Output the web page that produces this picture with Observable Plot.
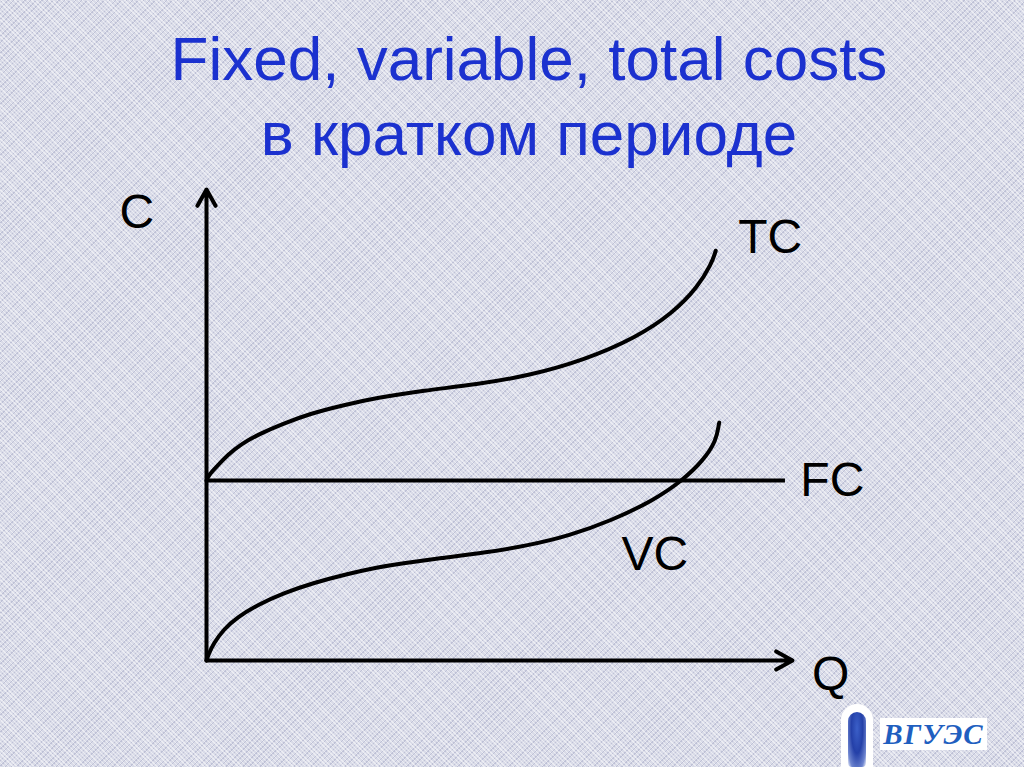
<!DOCTYPE html>
<html>
<head>
<meta charset="utf-8">
<script src="https://cdn.jsdelivr.net/npm/d3@7"></script>
<script src="https://cdn.jsdelivr.net/npm/@observablehq/plot@0.6"></script>
<style>
html, body { margin: 0; padding: 0; }
body {
  width: 1024px; height: 767px; overflow: hidden; position: relative;
  background-color: #d9dbe8;
  background-image:
    repeating-linear-gradient(45deg, rgba(255,255,255,0.5) 0 1px, rgba(255,255,255,0) 1px 3px),
    repeating-linear-gradient(-45deg, rgba(110,115,160,0.25) 0 1px, rgba(0,0,0,0) 1px 4px);
  font-family: "Liberation Sans", Arial, sans-serif;
}
#title {
  height: 170px; box-sizing: border-box; padding: 21px 0 0 34px;
  text-align: center; font-size: 62px; line-height: 75px; color: #1b31cf;
}
#chart svg { display: block; overflow: visible; }
#logo-fig {
  position: absolute; left: 841px; top: 704px; width: 32px; height: 63px;
  background: #fff; border-radius: 16px 16px 0 0; overflow: hidden;
}
#logo-fig div {
  position: absolute; left: 7px; top: 8px; width: 18px; height: 55px;
  background: radial-gradient(ellipse at 50% 30%, #3b5fc8 0%, #2440a8 45%, #6f86d0 80%, rgba(255,255,255,0) 100%);
  border-radius: 9px 9px 4px 4px;
}
#logo-text {
  position: absolute; left: 880px; top: 718px; width: 107px; height: 32px;
  background: #fff; color: #1f5fc0; text-align: center;
  font: italic bold 29px/32px "Liberation Serif", "DejaVu Serif", serif; letter-spacing: 1px;
}
</style>
</head>
<body>
<div id="title">Fixed, variable, total costs<br>в кратком периоде</div>
<div id="chart"></div>
<div id="logo-fig"><div></div></div>
<div id="logo-text">ВГУЭС</div>
<script>
// Quantity (Q) and cost (C) readings, in axis units (0..100 = origin..arrow tip)
const tcQ = [0, 0.4, 1.9, 3.6, 5.8, 9.2, 13.1, 17.7, 22.9, 29.2, 36.9, 46.1, 55.1, 64.3, 73.4, 79.5, 83.8, 86.2, 86.8, 86.9];
const tcC = [38.2, 39.4, 41.4, 43.6, 45.9, 48.2, 50.3, 52.4, 54.1, 55.8, 57.3, 58.6, 60.5, 63.7, 68.6, 73.7, 79.2, 84.3, 86.6, 87.0];
const vcQ = [0, 0.3, 1.2, 2.9, 5.3, 8.7, 13.1, 18.3, 24.1, 29.2, 33.1, 40.4, 47.6, 54.8, 61.9, 69.1, 76.3, 81.2, 84.8, 87.0, 87.4, 87.5];
const vcC = [0, 1.2, 3.6, 6.6, 9.2, 11.8, 14.3, 16.5, 18.4, 19.8, 20.6, 21.8, 22.9, 24.4, 26.5, 29.7, 34.0, 38.2, 42.5, 46.7, 50.0, 50.5];
const fcLevel = 38.2;
const fcEndQ = 98.8;
const axisEnd = 100;

const labelText = ["C", "TC", "FC", "VC", "Q"];
const labelQ = [-11.9, 96.2, 106.8, 76.5, 106.5];
const labelC = [95.0, 89.7, 38.1, 22.4, -3.0];

const tc = tcQ.map((q, i) => ({q, c: tcC[i]}));
const vc = vcQ.map((q, i) => ({q, c: vcC[i]}));
const axes = [
  {x1: 0, y1: 0, x2: 0, y2: axisEnd},
  {x1: 0, y1: 0, x2: axisEnd, y2: 0}
];
const labels = labelText.map((t, i) => ({t, q: labelQ[i], c: labelC[i]}));

const chart = Plot.plot({
  width: 1024,
  height: 597,
  marginLeft: 206,
  marginRight: 232,
  marginTop: 19,
  marginBottom: 107,
  x: {domain: [0, 100], axis: null},
  y: {domain: [0, 100], axis: null},
  style: {background: "transparent", fontFamily: "'Liberation Sans', Arial, sans-serif", overflow: "visible"},
  marks: [
    Plot.ruleY([fcLevel], {x1: 0, x2: fcEndQ, stroke: "#000", strokeWidth: 4}),
    Plot.line(tc, {x: "q", y: "c", curve: "basis", stroke: "#000", strokeWidth: 4}),
    Plot.line(vc, {x: "q", y: "c", curve: "basis", stroke: "#000", strokeWidth: 4}),
    Plot.arrow(axes, {x1: "x1", y1: "y1", x2: "x2", y2: "y2", stroke: "#000", strokeWidth: 4, headLength: 7, headAngle: 58}),
    Plot.text(labels, {x: "q", y: "c", text: "t", fontSize: 48, fill: "#000"})
  ]
});
document.getElementById("chart").appendChild(chart);
</script>
</body>
</html>
